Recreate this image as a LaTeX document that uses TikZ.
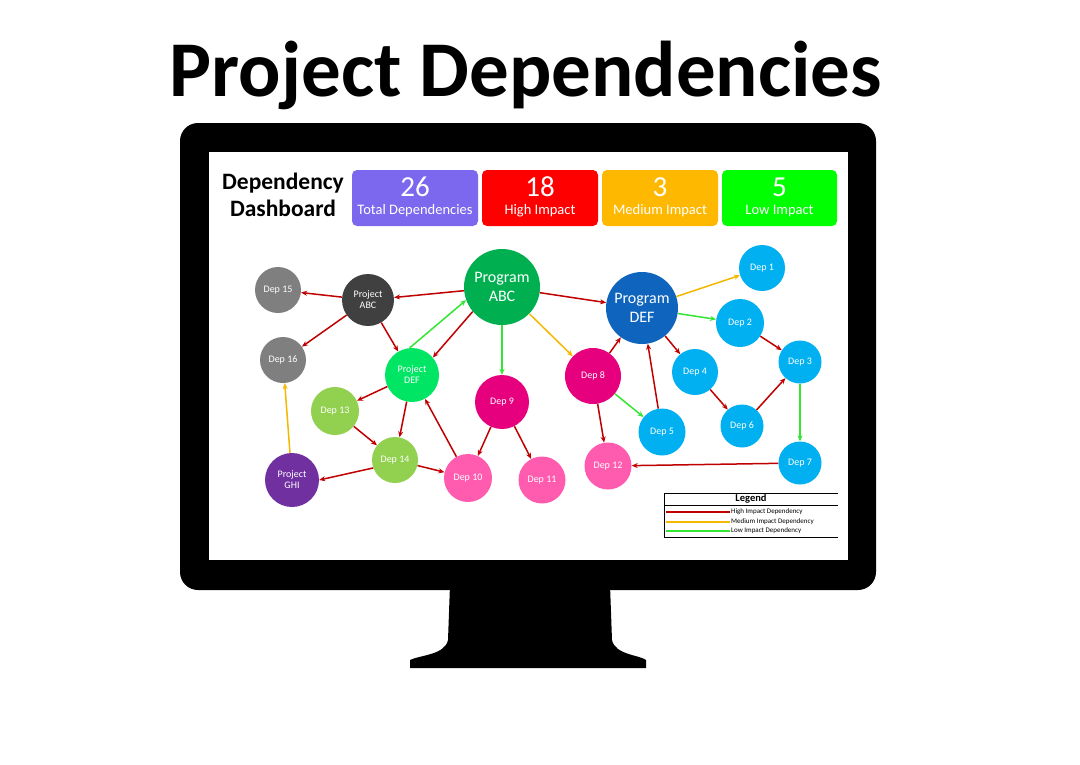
\documentclass[tikz,border=0pt]{standalone}
\usepackage{fontspec}
\setmainfont{Carlito}
\usetikzlibrary{arrows.meta}
\definecolor{hi}{HTML}{C00000}
\definecolor{med}{HTML}{F5B800}
\definecolor{low}{HTML}{33E633}
\definecolor{gr}{HTML}{7F7F7F}
\definecolor{lb}{HTML}{00B0F0}
\definecolor{mg}{HTML}{E6007E}
\definecolor{pk}{HTML}{FF5CB0}
\definecolor{lg}{HTML}{92D050}
\tikzset{
 nd/.style={circle,minimum size=#1,inner sep=0pt,text=white,font=\fontsize{10}{11}\selectfont,align=center},
 hiE/.style={draw=hi,line width=1.5pt,-{Stealth[length=6pt,width=5pt]}},
 medE/.style={draw=med,line width=1.5pt,-{Stealth[length=6pt,width=5pt]}},
 lowE/.style={draw=low,line width=1.5pt,-{Stealth[length=6pt,width=5pt]}},
 card/.style={rounded corners=5pt,minimum width=116pt,minimum height=56pt,inner sep=0pt},
 num/.style={text=white,font=\fontsize{29}{30}\selectfont,inner sep=0pt},
 sub/.style={text=white,font=\fontsize{14.5}{15}\selectfont,inner sep=0pt}
}
\begin{document}
\begin{tikzpicture}[x=1pt,y=-1pt]
\useasboundingbox (0,0) rectangle (1080,764);
\node (title) at (526,75) {\fontsize{79}{84}\selectfont\bfseries Project Dependencies};
% monitor
\fill (450,585) -- (610,585) -- (612,640) .. controls (615,655) and (640,655) .. (646,660) -- (646,668) -- (410,668) -- (410,660) .. controls (420,655) and (445,655) .. (448,640) -- cycle;
\fill[rounded corners=18pt] (180,123) rectangle (876,590);
\fill[white] (209,152) rectangle (848,560);
% dashboard
\node (dash) at (283,198) {\fontsize{23.5}{27}\selectfont\bfseries\begin{tabular}{c}Dependency\\Dashboard\end{tabular}};
\node[card,fill={rgb,255:red,123;green,104;blue,238},minimum width=126pt] (c1) at (415,198) {};
\node[card,fill=red] (c2) at (540,198) {};
\node[card,fill={rgb,255:red,255;green,184;blue,0}] (c3) at (660,198) {};
\node[card,fill={rgb,255:red,0;green,255;blue,0},minimum width=115pt] (c4) at (779.5,198) {};
\node[num] (n1) at (415,187) {26}; \node[sub] (s1) at (415,211) {Total Dependencies};
\node[num] (n2) at (540,187) {18}; \node[sub] (s2) at (540,211) {High Impact};
\node[num] (n3) at (660,187) {3}; \node[sub] (s3) at (660,211) {Medium Impact};
\node[num] (n4) at (779.5,187) {5}; \node[sub] (s4) at (779.5,211) {Low Impact};
% nodes
\node[nd=46pt,fill=gr] (d15) at (278,290) {Dep 15};
\node[nd=52pt,fill={rgb,255:red,64;green,64;blue,64}] (pabc) at (368,300) {Project\\ABC};
\node[nd=76pt,fill={rgb,255:red,0;green,176;blue,80},font=\fontsize{16}{19}\selectfont] (gabc) at (502,287) {Program\\ABC};
\node[nd=72pt,fill={rgb,255:red,15;green,100;blue,190},font=\fontsize{16}{19}\selectfont] (gdef) at (642,308) {Program\\DEF};
\node[nd=46pt,fill=lb] (d1) at (762,268) {Dep 1};
\node[nd=48pt,fill=lb] (d2) at (740,323) {Dep 2};
\node[nd=43pt,fill=lb] (d3) at (800,362) {Dep 3};
\node[nd=46pt,fill=lb] (d4) at (695,372) {Dep 4};
\node[nd=47pt,fill=lb] (d5) at (662,432) {Dep 5};
\node[nd=43pt,fill=lb] (d6) at (742,426) {Dep 6};
\node[nd=43pt,fill=lb] (d7) at (800,463) {Dep 7};
\node[nd=56pt,fill=mg] (d8) at (593,376) {Dep 8};
\node[nd=54pt,fill=mg] (d9) at (502,402) {Dep 9};
\node[nd=48pt,fill=pk] (d10) at (468,478) {Dep 10};
\node[nd=47pt,fill=pk] (d11) at (542,480) {Dep 11};
\node[nd=47pt,fill=pk] (d12) at (608,466) {Dep 12};
\node[nd=48pt,fill=lg] (d13) at (335,411) {Dep 13};
\node[nd=46pt,fill=lg] (d14) at (395,460) {Dep 14};
\node[nd=54pt,fill={rgb,255:red,0;green,230;blue,100}] (pdef) at (412,375) {Project\\DEF};
\node[nd=54pt,fill={rgb,255:red,112;green,48;blue,160}] (pghi) at (292,480) {Project\\GHI};
\node[nd=46pt,fill=gr] (d16) at (283,360) {Dep 16};
% edges
\draw[hiE] (gabc) -- (pabc);
\draw[hiE] (pabc) -- (d15);
\draw[hiE] (pabc) -- (d16);
\draw[hiE] (pabc) -- (pdef);
\draw[hiE] (gabc.220) -- (pdef.40);
\draw[lowE] (pdef.95) -- (gabc.200);
\draw[lowE] (gabc) -- (d9);
\draw[medE] (gabc) -- (d8);
\draw[hiE] (gabc) -- (gdef);
\draw[hiE] (pdef) -- (d13);
\draw[hiE] (pdef) -- (d14);
\draw[hiE] (d13) -- (d14);
\draw[hiE] (d14) -- (d10);
\draw[hiE] (d14.200) -- (pghi.0);
\draw[medE] (pghi) -- (d16);
\draw[hiE] (d10) -- (pdef);
\draw[hiE] (d9) -- (d10);
\draw[hiE] (d9) -- (d11);
\draw[medE] (gdef) -- (d1);
\draw[lowE] (gdef) -- (d2);
\draw[hiE] (gdef) -- (d4);
\draw[hiE] (d8) -- (gdef);
\draw[lowE] (d8) -- (d5);
\draw[hiE] (d8) -- (d12);
\draw[hiE] (d5) -- (gdef);
\draw[hiE] (d2) -- (d3);
\draw[hiE] (d4) -- (d6);
\draw[hiE] (d6) -- (d3);
\draw[lowE] (d3) -- (d7);
\draw[hiE] (d7) -- (d12);
% legend
\draw[line width=0.6pt] (838,493) -- (664,493) -- (664,537) -- (838,537);
\draw[line width=0.6pt] (664,505) -- (838,505);
\node[font=\fontsize{10.5}{11}\selectfont\bfseries] (lt) at (751,499) {Legend};
\coordinate (l1a) at (666,512); \coordinate (l1b) at (730,512);
\coordinate (l2a) at (666,522); \coordinate (l2b) at (730,522);
\coordinate (l3a) at (666,531); \coordinate (l3b) at (730,531);
\draw[hi,line width=2.5pt] (l1a) -- (l1b);
\draw[med,line width=2.5pt] (l2a) -- (l2b);
\draw[low,line width=2.5pt] (l3a) -- (l3b);
\node[anchor=west,inner sep=1pt,font=\fontsize{7}{7}\selectfont] (t1) at (l1b) {High Impact Dependency};
\node[anchor=west,inner sep=1pt,font=\fontsize{7}{7}\selectfont] (t2) at (l2b) {Medium Impact Dependency};
\node[anchor=west,inner sep=1pt,font=\fontsize{7}{7}\selectfont] (t3) at (l3b) {Low Impact Dependency};
\end{tikzpicture}
\end{document}
